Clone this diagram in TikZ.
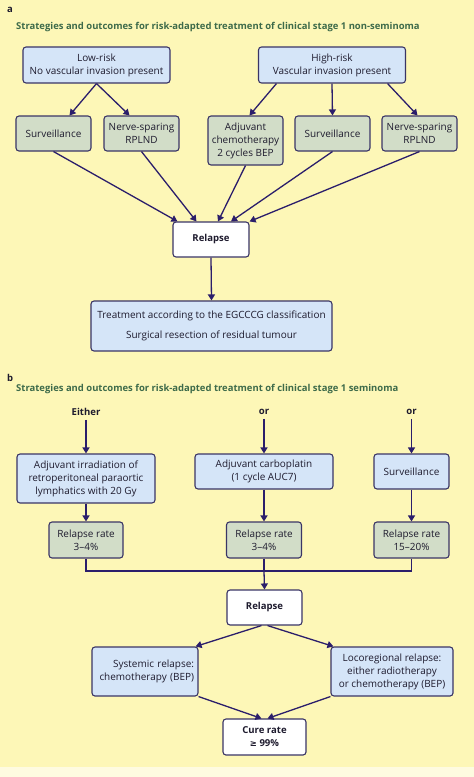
\documentclass[tikz,border=0pt]{standalone}
\usepackage{fontspec}
\setmainfont{Open Sans}
\newfontfamily\symfont{DejaVu Sans}
\usetikzlibrary{arrows.meta}
\definecolor{bgyellow}{HTML}{FDF7B7}
\definecolor{bglight}{HTML}{FEFBE0}
\definecolor{boxblue}{HTML}{D5E5F8}
\definecolor{boxgreen}{HTML}{D2DDC8}
\definecolor{edgecol}{HTML}{3A3566}
\definecolor{arrcol}{HTML}{2B1E6B}
\definecolor{titlegreen}{HTML}{3E6B4A}
\definecolor{txt}{HTML}{1E1B2E}
\tikzset{
  every node/.style={font=\fontsize{10}{13}\selectfont, text=txt},
  box/.style={draw=edgecol, line width=1.1bp, rounded corners=3bp, inner sep=0pt, align=center},
  bluebox/.style={box, fill=boxblue},
  greenbox/.style={box, fill=boxgreen},
  whitebox/.style={box, fill=white, font=\fontsize{9.6}{13}\selectfont\bfseries},
  arr/.style={draw=arrcol, line width=1.3bp, -{Triangle[length=6bp,width=7bp]}},
  plain/.style={draw=arrcol, line width=1.3bp},
  ttl/.style={anchor=west, text=titlegreen, font=\fontsize{9.5}{12}\selectfont\bfseries, inner sep=0pt},
  lbl/.style={anchor=west, font=\fontsize{9.5}{11}\selectfont\bfseries, inner sep=0pt},
  choice/.style={font=\fontsize{9.6}{12}\selectfont\bfseries, inner sep=1pt},
}
\begin{document}
\begin{tikzpicture}[x=1bp,y=-1bp]
\fill[bglight] (0,0) rectangle (474,777);
\fill[bgyellow] (0,0) rectangle (474,767);
\useasboundingbox (0,0) rectangle (474,777);
% panel a
\node[lbl] (la) at (7,10) {a};
\node[ttl] (ta) at (16,27) {Strategies and outcomes for risk-adapted treatment of clinical stage 1 non-seminoma};
\node[bluebox, minimum width=147bp, minimum height=36bp] (low) at (96.5,65) {Low-risk\\No vascular invasion present};
\node[bluebox, minimum width=147bp, minimum height=36bp] (high) at (332,65) {High-risk\\Vascular invasion present};
\node[greenbox, minimum width=75bp, minimum height=35bp] (survL) at (53.5,133.5) {Surveillance};
\node[greenbox, minimum width=75bp, minimum height=35bp] (nsL) at (141.5,133.5) {Nerve-sparing\\RPLND};
\node[greenbox, minimum width=75bp, minimum height=49bp] (adj) at (245.5,140.5) {Adjuvant\\chemotherapy\\2 cycles BEP};
\node[greenbox, minimum width=75bp, minimum height=35bp] (survR) at (332.5,133.5) {Surveillance};
\node[greenbox, minimum width=75bp, minimum height=35bp] (nsR) at (419.5,133.5) {Nerve-sparing\\RPLND};
\node[whitebox, minimum width=76bp, minimum height=35bp] (relA) at (211,239.5) {Relapse};
\node[bluebox, minimum width=241bp, minimum height=50bp] (treat) at (211.5,326) {Treatment according to the EGCCCG classification\\[1.2ex]Surgical resection of residual tumour};
\draw[arr] (low.south) -- ([xshift=16bp]survL.north);
\draw[arr] (low.south) -- ([xshift=-12bp]nsL.north);
\draw[arr] ([xshift=18.5bp]high.south west) -- ([xshift=4bp]adj.north);
\draw[arr] (high.south) -- (survR.north);
\draw[arr] ([xshift=-18.5bp]high.south east) -- ([xshift=-2bp]nsR.north);
\draw[arr] (survL.south) -- ([xshift=5bp]relA.north west);
\draw[arr] (nsL.south) -- ([xshift=24bp]relA.north west);
\draw[arr] (adj.south) -- ([xshift=7bp]relA.north);
\draw[arr] (survR.south) -- ([xshift=20bp]relA.north);
\draw[arr] (nsR.south) -- (relA.north east);
\draw[arr] (relA.south) -- (treat.north);
% panel b
\node[lbl] (lb) at (7,378) {b};
\node[ttl] (tb) at (16,389) {Strategies and outcomes for risk-adapted treatment of clinical stage 1 seminoma};
\node[choice] (either) at (86,412) {Either};
\node[choice] (or1) at (264,412) {or};
\node[choice] (or2) at (411.5,412) {or};
\node[bluebox, minimum width=138bp, minimum height=49bp] (irr) at (86,478.5) {Adjuvant irradiation of\\retroperitoneal paraortic\\lymphatics with 20 Gy};
\node[bluebox, minimum width=138bp, minimum height=35bp] (carb) at (264,471.5) {Adjuvant carboplatin\\(1 cycle AUC7)};
\node[bluebox, minimum width=75bp, minimum height=35bp] (survB) at (411.5,471.5) {Surveillance};
\node[greenbox, minimum width=74bp, minimum height=36bp] (rr1) at (86,540) {Relapse rate\\3--4\%};
\node[greenbox, minimum width=75bp, minimum height=36bp] (rr2) at (264,540) {Relapse rate\\3--4\%};
\node[greenbox, minimum width=75bp, minimum height=36bp] (rr3) at (411.5,540) {Relapse rate\\15--20\%};
\draw[arr] ([yshift=-3bp]either.south) -- (irr.north);
\draw[arr] ([yshift=-3bp]or1.south) -- (carb.north);
\draw[arr] ([yshift=-3bp]or2.south) -- (survB.north);
\draw[arr] (irr.south) -- (rr1.north);
\draw[arr] (carb.south) -- (rr2.north);
\draw[arr] (survB.south) -- (rr3.north);
\coordinate (j) at (264,571);
\draw[plain] (rr1.south) |- (j);
\draw[plain] (rr3.south) |- (j);
\draw[plain] (rr2.south) -- (j);
\node[whitebox, minimum width=75bp, minimum height=35bp] (relB) at (264.5,607.5) {Relapse};
\draw[arr] (j) -- (relB.north);
\node[bluebox, minimum width=106bp, minimum height=49bp, align=right, text width=98bp] (sys) at (145,671.5) {Systemic relapse:\\chemotherapy (BEP)};
\node[bluebox, minimum width=122bp, minimum height=49bp] (loco) at (392,671.5) {Locoregional relapse:\\either radiotherapy\\or chemotherapy (BEP)};
\node[whitebox, minimum width=83bp, minimum height=36bp] (cure) at (264.5,737) {Cure rate\\{\symfont\fontsize{8.5}{12}\selectfont ≥} 99\%};
\draw[arr] ([xshift=-3bp]relB.south) -- ([xshift=-3bp]sys.north east);
\draw[arr] ([xshift=3bp]relB.south) -- ([xshift=3bp]loco.north west);
\draw[arr] (sys.south east) -- ([xshift=-3bp]cure.north);
\draw[arr] (loco.south west) -- ([xshift=3bp]cure.north);
\end{tikzpicture}
\end{document}
